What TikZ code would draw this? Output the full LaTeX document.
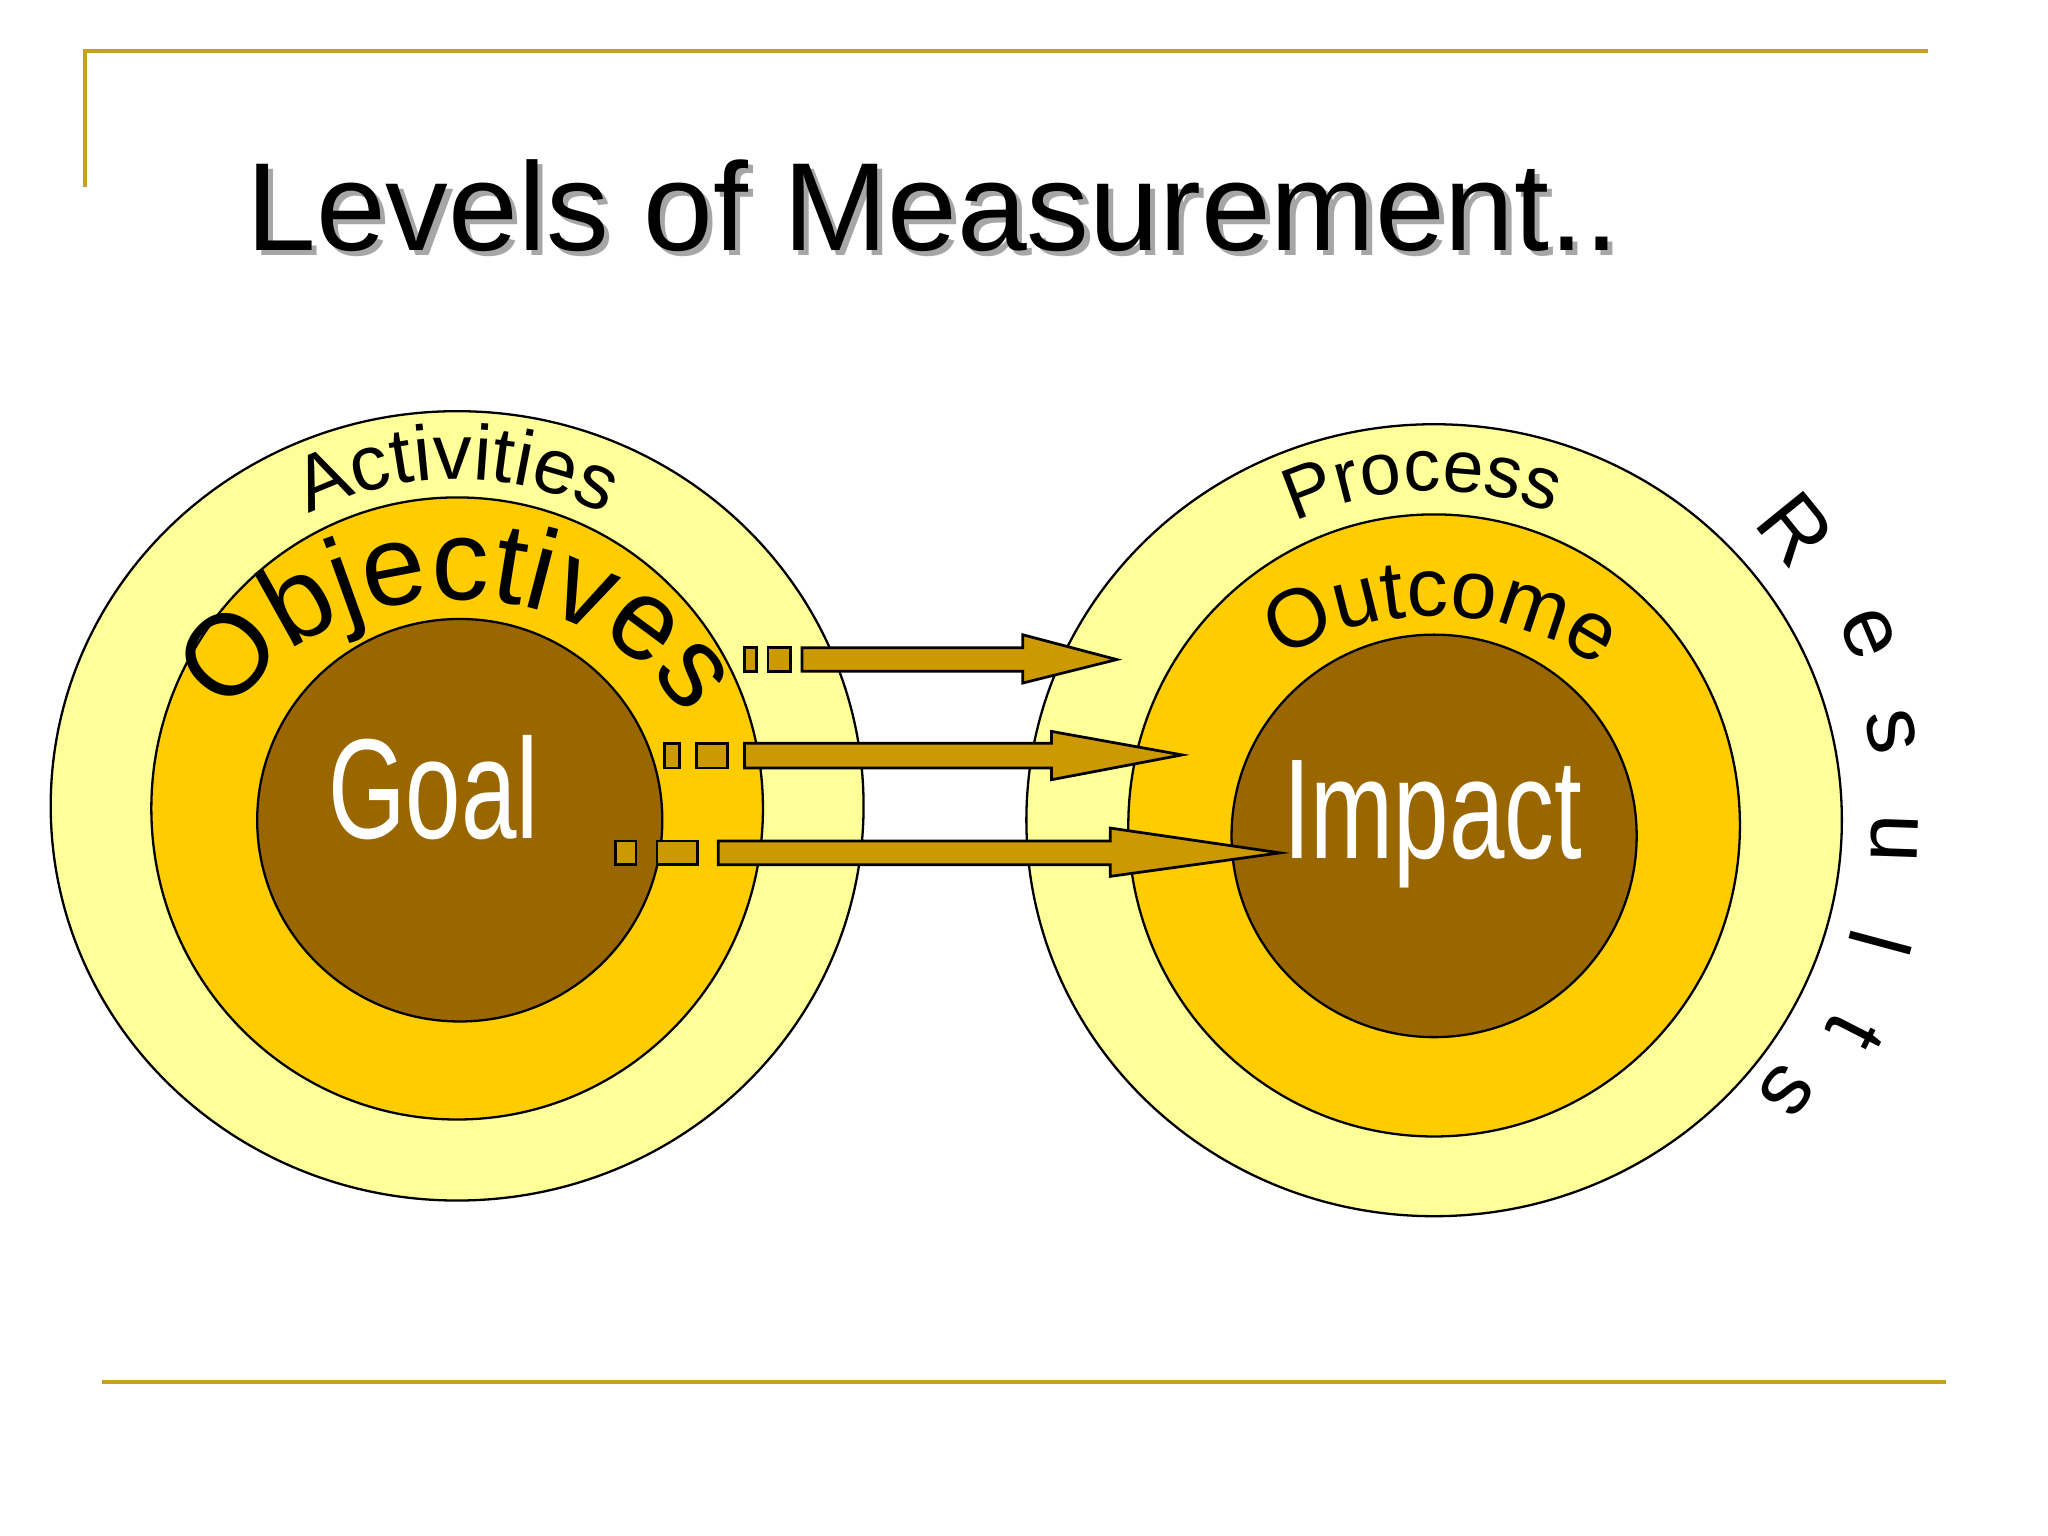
\documentclass[tikz,border=0pt]{standalone}
\usepackage{fontspec}
\setmainfont{Liberation Sans}
\usetikzlibrary{decorations.text}
\definecolor{lineG}{HTML}{C8A020}
\definecolor{pale}{HTML}{FFFF99}
\definecolor{mid}{HTML}{FFCC00}
\definecolor{brownc}{HTML}{996600}
\definecolor{arr}{HTML}{CC9900}
\tikzset{ring/.style={draw=black,line width=0.5pt},
 arrowshape/.style={fill=arr,draw=black,line width=0.6pt},
 arctext/.style={decorate,decoration={text along path,text align=center,text={#1}}},
 resl/.style={font=\fontsize{19}{19}\selectfont,inner sep=0pt}}
\begin{document}
\begin{tikzpicture}[x=0.01cm,y=0.01cm]
\useasboundingbox (0,0) rectangle (1568,1176);
\fill[white] (0,0) rectangle (1568,1176);
% frame lines
\draw[lineG,line width=1pt] (65,1033) -- (65,1137) -- (1476,1137);
\draw[lineG,line width=1pt] (78,118) -- (1490,118);
% title
\node[anchor=base west,inner sep=0pt,text=black!35,font=\fontsize{27.3}{27.3}\selectfont] at (192,980) {Levels of Measurement..};
\node[anchor=base west,inner sep=0pt,font=\fontsize{27.3}{27.3}\selectfont] (title) at (188,984) {Levels of Measurement..};
% left circles
\filldraw[ring,fill=pale] (350,559) ellipse [x radius=3.11cm,y radius=3.02cm];
\filldraw[ring,fill=mid] (350,557) ellipse [x radius=2.34cm,y radius=2.38cm];
\filldraw[ring,fill=brownc] (352,548) ellipse [x radius=1.55cm,y radius=1.54cm];
% right circles
\filldraw[ring,fill=pale] (1098,548) ellipse [x radius=3.12cm,y radius=3.03cm];
\filldraw[ring,fill=mid] (1098,544) ellipse [x radius=2.34cm,y radius=2.38cm];
\filldraw[ring,fill=brownc] (1098,536) ellipse [x radius=1.55cm,y radius=1.54cm];
% centre words
\node[text=white,font=\fontsize{31}{31}\selectfont,xscale=0.7] (goal) at (332,573) {Goal};
\node[text=white,font=\fontsize{31}{31}\selectfont,xscale=0.7] (impact) at (1097,545) {Impact};
% curved words
\path[arctext={|\fontsize{17}{17}\selectfont|Activities}] ([shift={(170:2.5cm)}]350,559) arc[start angle=170,end angle=10,radius=2.5cm];
\path[arctext={|\fontsize{25}{25}\selectfont|Objectives}] ([shift={(175:1.93cm and 1.6cm)}]350,557) arc[start angle=175,end angle=5,x radius=1.93cm,y radius=1.6cm];
\path[arctext={|\fontsize{16}{16}\selectfont|Process}] ([shift={(172:2.52cm)}]1098,548) arc[start angle=172,end angle=12,radius=2.52cm];
\path[arctext={|\fontsize{18}{18}\selectfont|Outcome}] ([shift={(168:1.92cm and 1.6cm)}]1098,544) arc[start angle=168,end angle=8,x radius=1.92cm,y radius=1.6cm];
% Results
\node[resl,rotate=-51] (r1) at (1375,771) {R};
\node[resl,rotate=-67] (r2) at (1430,691) {e};
\node[resl,rotate=-79] (r3) at (1448,616) {s};
\node[resl,rotate=-92] (r4) at (1450,534) {u};
\node[resl,rotate=-105] (r5) at (1440,454) {l};
\node[resl,rotate=-117] (r6) at (1420,386) {t};
\node[resl,rotate=-127] (r7) at (1368,341) {s};
% arrows
\filldraw[arrowshape] (570,662) rectangle (579,680);
\filldraw[arrowshape] (588,662) rectangle (605,680);
\filldraw[arrowshape] (614,662) -- (783,662) -- (783,653) -- (855,671) -- (783,690) -- (783,680) -- (614,680) -- cycle;
\filldraw[arrowshape] (509,588) rectangle (520,607);
\filldraw[arrowshape] (533,588) rectangle (557,607);
\filldraw[arrowshape] (570,588) -- (805,588) -- (805,579) -- (905,598) -- (805,616) -- (805,607) -- (570,607) -- cycle;
\filldraw[arrowshape] (471,514) rectangle (487,532);
\filldraw[arrowshape] (503,514) rectangle (534,532);
\filldraw[arrowshape] (550,514) -- (850,514) -- (850,505) -- (980,523) -- (850,542) -- (850,532) -- (550,532) -- cycle;
\end{tikzpicture}
\end{document}
